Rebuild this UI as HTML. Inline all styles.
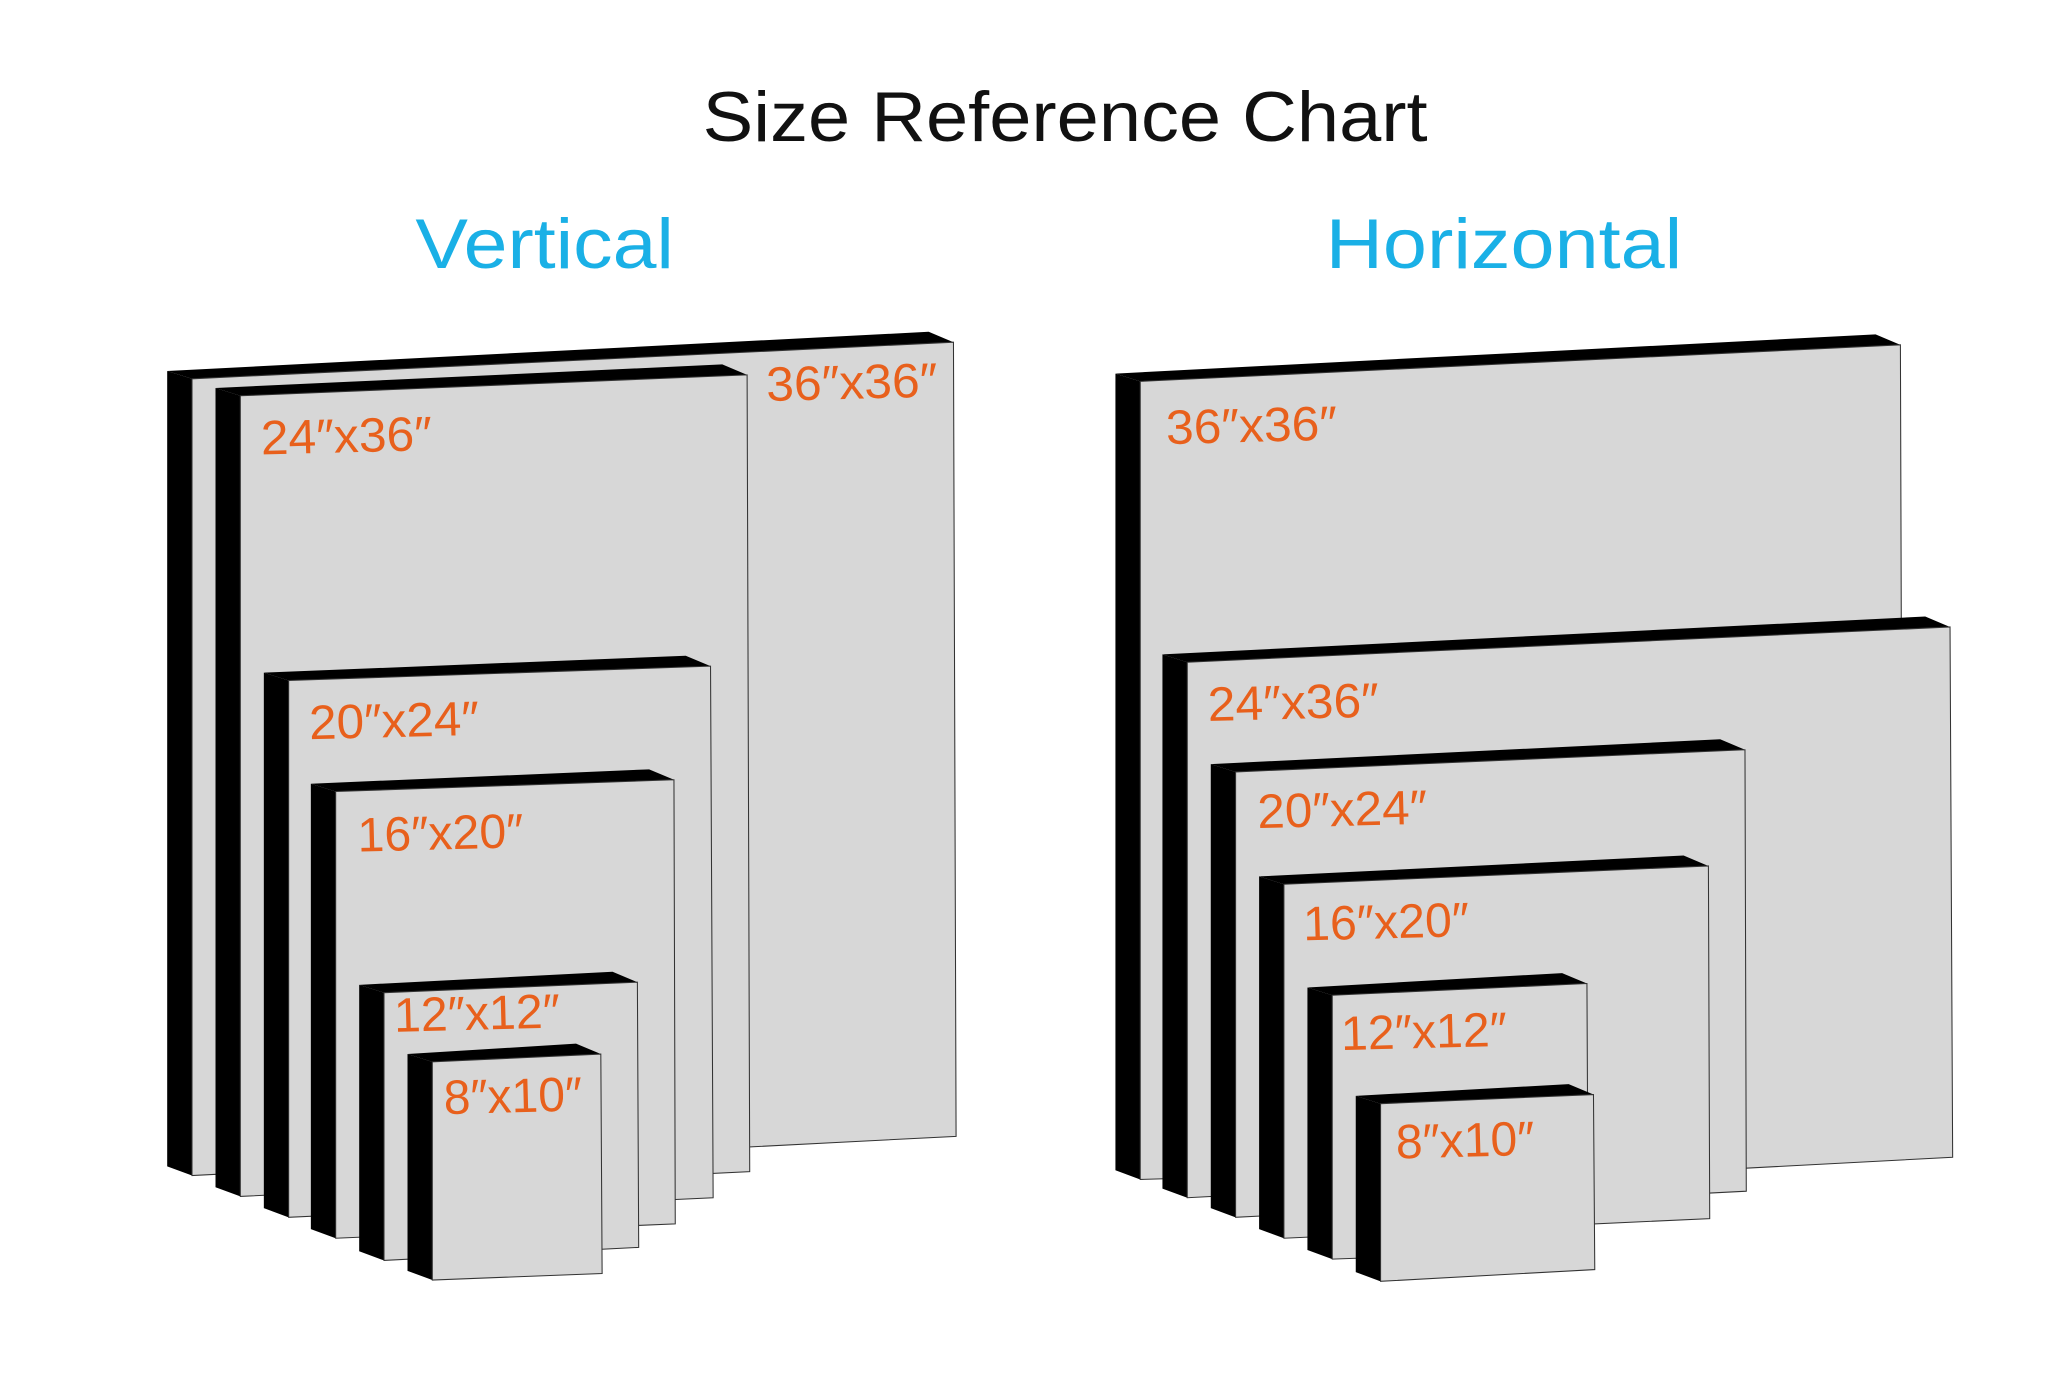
<!DOCTYPE html>
<html><head><meta charset="utf-8"><style>
html,body{margin:0;padding:0;background:#fff;width:2048px;height:1378px;overflow:hidden}
svg{display:block}
.t{font-family:"Liberation Sans",sans-serif}
.f{fill:#d7d7d7;stroke:#333;stroke-width:0.8}
.k{fill:#000}
.o{fill:#e8601c;font-family:"Liberation Sans",sans-serif;font-size:37px}
</style></head><body>
<svg width="2048" height="1378" viewBox="0 0 1568 1055" xmlns="http://www.w3.org/2000/svg">
<rect width="1568" height="1055" fill="#fff"/>
<text class="t" x="538" y="108" font-size="54" fill="#111" textLength="555" lengthAdjust="spacingAndGlyphs">Size Reference Chart</text>
<text class="t" x="318" y="205" font-size="54" fill="#1ab0e6" textLength="198" lengthAdjust="spacingAndGlyphs">Vertical</text>
<text class="t" x="1015" y="205" font-size="54" fill="#1ab0e6" textLength="273" lengthAdjust="spacingAndGlyphs">Horizontal</text>

<!-- Vertical -->
<polygon class="k" points="147,290 128,284 711,254 730,262"/>
<polygon class="k" points="147,290 128,284 128,893 147,900"/>
<polygon class="f" points="147,290 730,262 732,870 147,900"/>

<polygon class="k" points="184,303 165,297 553,279 572,287"/>
<polygon class="k" points="184,303 165,297 165,909 184,916"/>
<polygon class="f" points="184,303 572,287 574,897 184,916"/>

<polygon class="k" points="221,521 202,515 525,502 544,510"/>
<polygon class="k" points="221,521 202,515 202,925 221,932"/>
<polygon class="f" points="221,521 544,510 546,917 221,932"/>

<polygon class="k" points="257,606 238,600 497,589 516,597"/>
<polygon class="k" points="257,606 238,600 238,941 257,948"/>
<polygon class="f" points="257,606 516,597 517,937 257,948"/>

<polygon class="k" points="294,760 275,754 469,744 488,752"/>
<polygon class="k" points="294,760 275,754 275,958 294,965"/>
<polygon class="f" points="294,760 488,752 489,955 294,965"/>

<polygon class="k" points="331,813 312,807 441,799 460,807"/>
<polygon class="k" points="331,813 312,807 312,973 331,980"/>
<polygon class="f" points="331,813 460,807 461,975 331,980"/>

<text class="o" x="587" y="307" transform="rotate(-1.5 587 307)" textLength="131" lengthAdjust="spacingAndGlyphs">36″x36″</text>
<text class="o" x="200" y="348" transform="rotate(-1.5 200 348)" textLength="131" lengthAdjust="spacingAndGlyphs">24″x36″</text>
<text class="o" x="237" y="566" transform="rotate(-1.5 237 566)" textLength="130" lengthAdjust="spacingAndGlyphs">20″x24″</text>
<text class="o" x="274" y="652" transform="rotate(-1.5 274 652)" textLength="127" lengthAdjust="spacingAndGlyphs">16″x20″</text>
<text class="o" x="302" y="790" transform="rotate(-1.5 302 790)" textLength="127" lengthAdjust="spacingAndGlyphs">12″x12″</text>
<text class="o" x="340" y="853" transform="rotate(-1.5 340 853)" textLength="106" lengthAdjust="spacingAndGlyphs">8″x10″</text>

<!-- Horizontal -->
<polygon class="k" points="873,292 854,286 1436,256 1455,264"/>
<polygon class="k" points="873,292 854,286 854,896 873,903"/>
<polygon class="f" points="873,292 1455,264 1457,886 873,903"/>

<polygon class="k" points="909,507 890,501 1474,472 1493,480"/>
<polygon class="k" points="909,507 890,501 890,910 909,917"/>
<polygon class="f" points="909,507 1493,480 1495,886 909,917"/>

<polygon class="k" points="946,591 927,585 1317,566 1336,574"/>
<polygon class="k" points="946,591 927,585 927,925 946,932"/>
<polygon class="f" points="946,591 1336,574 1337,912 946,932"/>

<polygon class="k" points="983,677 964,671 1289,655 1308,663"/>
<polygon class="k" points="983,677 964,671 964,941 983,948"/>
<polygon class="f" points="983,677 1308,663 1309,933 983,948"/>

<polygon class="k" points="1020,762 1001,756 1196,745 1215,753"/>
<polygon class="k" points="1020,762 1001,756 1001,957 1020,964"/>
<polygon class="f" points="1020,762 1215,753 1216,957 1020,964"/>

<polygon class="k" points="1057,845 1038,839 1201,830 1220,838"/>
<polygon class="k" points="1057,845 1038,839 1038,974 1057,981"/>
<polygon class="f" points="1057,845 1220,838 1221,972 1057,981"/>

<text class="o" x="893" y="340" transform="rotate(-1.5 893 340)" textLength="131" lengthAdjust="spacingAndGlyphs">36″x36″</text>
<text class="o" x="925" y="552" transform="rotate(-1.5 925 552)" textLength="131" lengthAdjust="spacingAndGlyphs">24″x36″</text>
<text class="o" x="963" y="634" transform="rotate(-1.5 963 634)" textLength="130" lengthAdjust="spacingAndGlyphs">20″x24″</text>
<text class="o" x="998" y="720" transform="rotate(-1.5 998 720)" textLength="127" lengthAdjust="spacingAndGlyphs">16″x20″</text>
<text class="o" x="1027" y="804" transform="rotate(-1.5 1027 804)" textLength="127" lengthAdjust="spacingAndGlyphs">12″x12″</text>
<text class="o" x="1069" y="887" transform="rotate(-1.5 1069 887)" textLength="106" lengthAdjust="spacingAndGlyphs">8″x10″</text>
</svg>
</body></html>
